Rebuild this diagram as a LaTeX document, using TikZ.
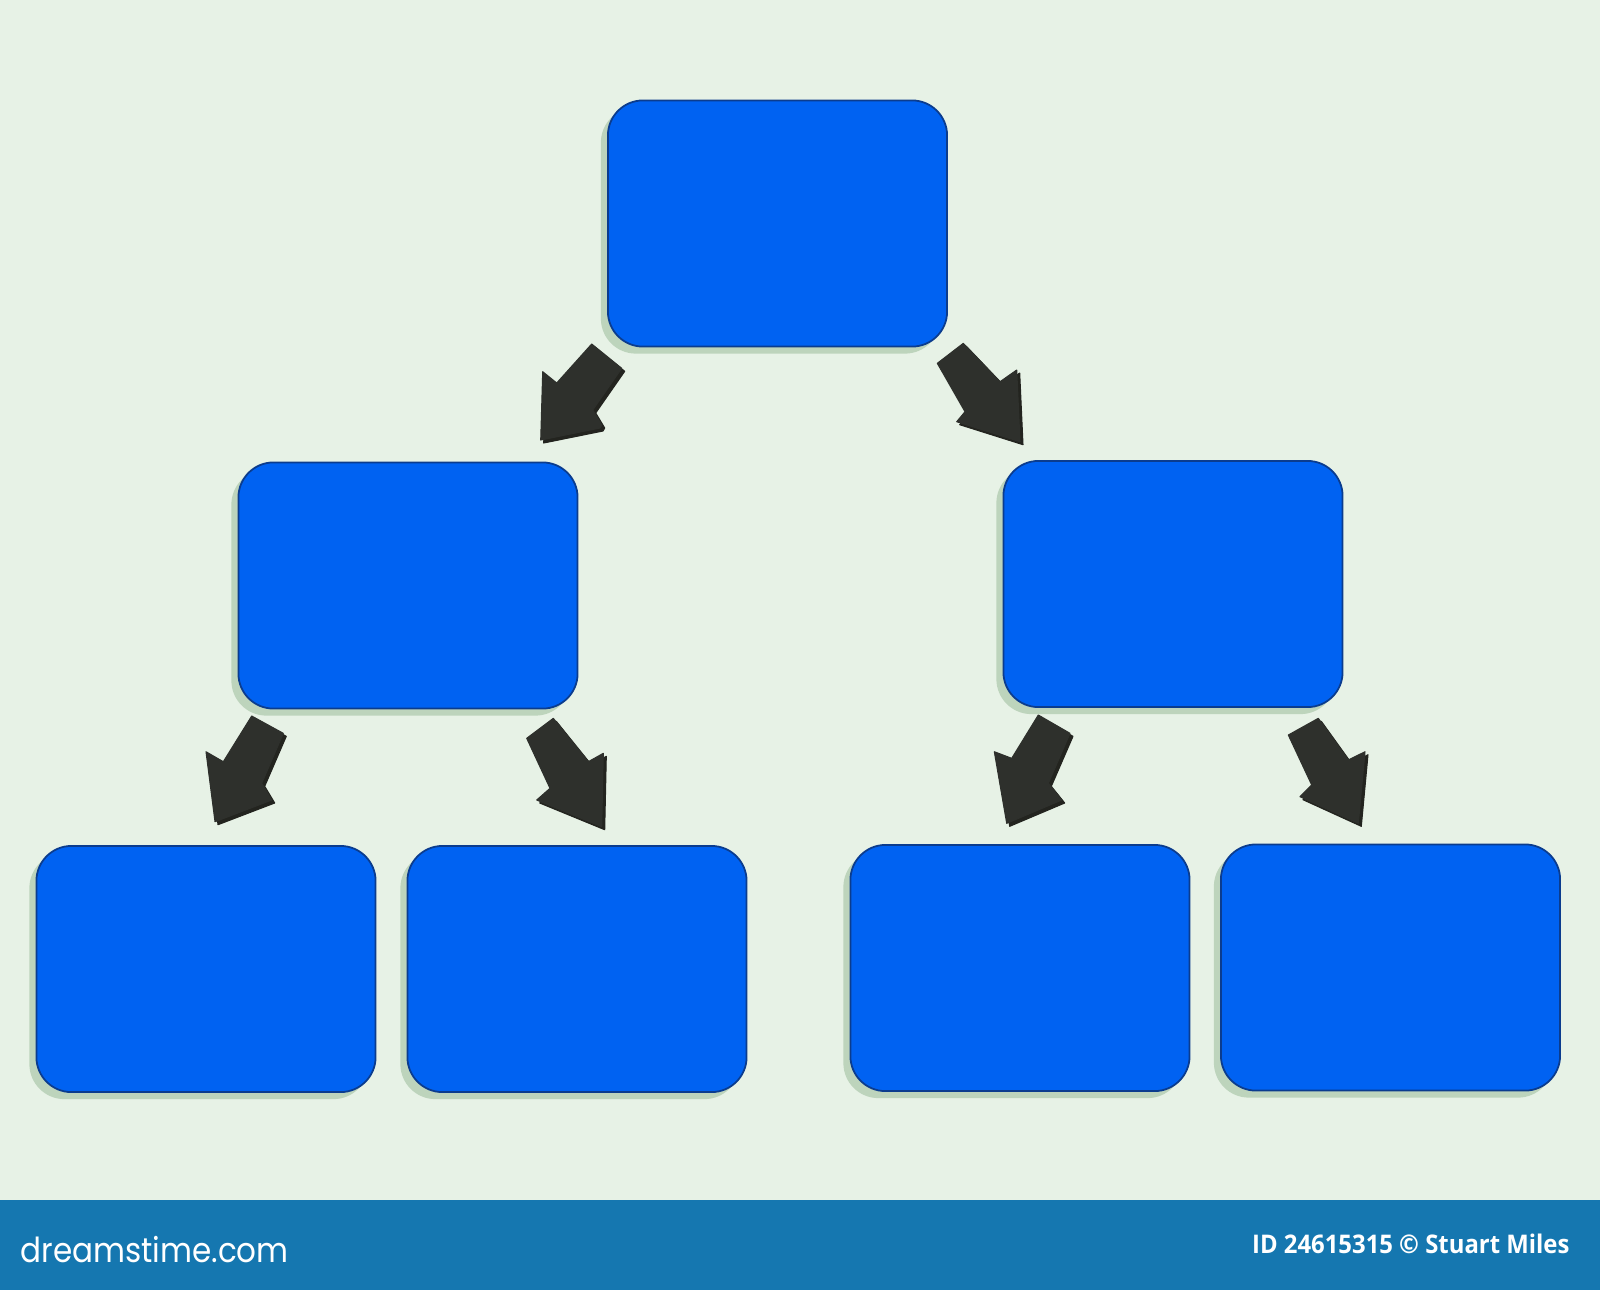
\documentclass[tikz,border=0pt]{standalone}
\usepackage{fontspec}
\newfontfamily\logofont{Poppins}
\newfontfamily\idfont{Open Sans}
\usetikzlibrary{shadows}
\definecolor{bg}{HTML}{E7F2E6}
\definecolor{boxblue}{HTML}{0062F2}
\definecolor{boxedge}{HTML}{0B3C8E}
\definecolor{arrowc}{HTML}{2E302C}
\definecolor{arrowside}{HTML}{23241F}
\definecolor{banner}{HTML}{1577B0}
\tikzset{
  bluebox/.style={draw=boxedge, line width=0.5pt, fill=boxblue, rounded corners=0.35cm,
    minimum width=3.39cm, minimum height=2.46cm, inner sep=0pt,
    drop shadow={shadow xshift=-2pt, shadow yshift=-2pt, opacity=0.18, fill=black!70!green}},
  blockarrow/.style={fill=arrowc, draw=arrowc, line width=0.3pt, line join=round},
  arrowback/.style={fill=arrowside, draw=arrowside, line width=0.3pt, line join=round, shift={(3,3)}}
}
\begin{document}
\begin{tikzpicture}[x=0.01cm, y=-0.01cm]
\fill[bg] (0,0) rectangle (1600,1200);
\useasboundingbox (0,0) rectangle (1600,1290);
\fill[banner] (0,1200) rectangle (1600,1290);

\node[bluebox] (t)  at (777.5,223.5) {};
\node[bluebox] (ml) at (408,585.5) {};
\node[bluebox] (mr) at (1173,584) {};
\node[bluebox] (b1) at (206,969) {};
\node[bluebox] (b2) at (577,969) {};
\node[bluebox] (b3) at (1020,968) {};
\node[bluebox] (b4) at (1390.5,967.5) {};

% arrows (with slight thickness behind)
\foreach \st in {arrowback,blockarrow}{
\path[\st] (591.7,344) -- (621.7,368.3) -- (592.7,410) -- (601.7,425) -- (600,428)
  -- (540.7,440) -- (542.7,371.7) -- (556.7,383) -- cycle;
\path[\st] (963.3,343.3) -- (937.3,363.3) -- (965,411.7) -- (956.7,421.7)
  -- (1020,441.7) -- (1016.7,370) -- (1000,381.7) -- cycle;
\path[\st] (251.7,716) -- (283.3,733.3) -- (261.7,783.3) -- (271.7,800)
  -- (215,821.7) -- (206,751.7) -- (223.3,761.7) -- cycle;
\path[\st] (553.3,718.3) -- (526.7,738.3) -- (550,788.3) -- (536.7,800)
  -- (601.7,826.7) -- (603.3,753.3) -- (588.3,761.7) -- cycle;
\path[\st] (1038.3,715) -- (1070,733.3) -- (1048.3,783.3) -- (1061.7,800)
  -- (1006.7,823.3) -- (994.3,751.7) -- (1011.7,758.3) -- cycle;
\path[\st] (1318.3,718.3) -- (1288.3,735) -- (1311.7,785) -- (1300,796.7)
  -- (1358.3,823.3) -- (1365,751.7) -- (1348.3,760) -- cycle;
}

% banner texts
\node[anchor=base west, inner sep=0pt, text=white, xscale=0.9, transform shape,
  font=\logofont\fontsize{9.8pt}{10pt}\selectfont] (logo) at (20,1262) {dreamstime.com};
\node[anchor=base east, inner sep=0pt, text=white, xscale=0.93, transform shape,
  font=\idfont\bfseries\fontsize{7.3pt}{8pt}\selectfont] (id) at (1570,1253) {ID 24615315 © Stuart Miles};
\end{tikzpicture}
\end{document}
